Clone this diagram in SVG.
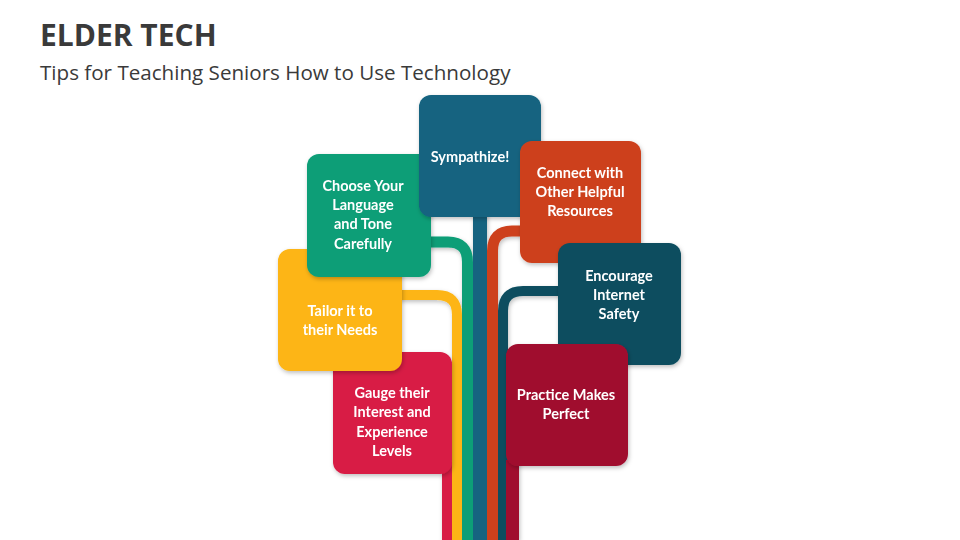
<svg xmlns="http://www.w3.org/2000/svg" width="960" height="540" viewBox="0 0 960 540">
<defs>
<filter id="sh" x="-20%" y="-20%" width="140%" height="140%"><feDropShadow dx="1" dy="2" stdDeviation="2" flood-opacity="0.25"/></filter>
</defs>
<style>
.t{font-family:Lato,"Liberation Sans",sans-serif;font-size:14.5px;font-weight:700;fill:#fff;text-anchor:middle}
.b{fill:none;stroke-linecap:butt}
</style>
<rect width="960" height="540" fill="#fff"/>
<text x="40" y="46" font-family="Open Sans, Liberation Sans, sans-serif" font-size="30" font-weight="700" fill="#3a3a3a">ELDER TECH</text>
<text x="40" y="80" font-family="Open Sans, Liberation Sans, sans-serif" font-size="20.6" fill="#3a3a3a">Tips for Teaching Seniors How to Use Technology</text>
<g id="connectors" filter="url(#sh)">
<path class="b" d="M 425 242 H 448 Q 467.5 242 467.5 262 V 540" stroke="#0a9e77" stroke-width="11"/>
<path class="b" d="M 395 295 H 437 Q 457 295 457 315 V 540" stroke="#fdb513" stroke-width="10"/>
<rect x="442" y="460" width="10" height="80" fill="#d81a44"/>
<path class="b" d="M 527 231 H 512 Q 492.5 231 492.5 251 V 540" stroke="#cd411d" stroke-width="11"/>
<path class="b" d="M 565 291 H 523 Q 503 291 503 311 V 540" stroke="#0b4d5f" stroke-width="10"/>
<rect x="473" y="210" width="14" height="330" fill="#136480"/>
<rect x="506" y="460" width="13" height="80" fill="#a0112f"/>
</g>
<g id="n-gauge" filter="url(#sh)"><rect x="333" y="352" width="119" height="122" rx="12" fill="#d81a44"/><text class="t" x="392" y="398">Gauge their</text><text class="t" x="392" y="417">Interest and</text><text class="t" x="392" y="437">Experience</text><text class="t" x="392" y="456">Levels</text></g>
<g id="n-tailor" filter="url(#sh)"><rect x="278" y="249" width="124" height="122" rx="12" fill="#fdb513"/><text class="t" x="340" y="316">Tailor it to</text><text class="t" x="340" y="335">their Needs</text></g>
<g id="n-choose" filter="url(#sh)"><rect x="307" y="154" width="124" height="123" rx="12" fill="#0a9e77"/><text class="t" x="363" y="191">Choose Your</text><text class="t" x="363" y="210">Language</text><text class="t" x="363" y="229">and Tone</text><text class="t" x="363" y="249">Carefully</text></g>
<g id="n-sympathize" filter="url(#sh)"><rect x="419" y="95" width="122" height="122" rx="12" fill="#136480"/><text class="t" x="470" y="162">Sympathize!</text></g>
<g id="n-connect" filter="url(#sh)"><rect x="520" y="141" width="121" height="122" rx="12" fill="#cd411d"/><text class="t" x="580" y="178">Connect with</text><text class="t" x="580" y="197">Other Helpful</text><text class="t" x="580" y="216">Resources</text></g>
<g id="n-encourage" filter="url(#sh)"><rect x="558" y="243" width="123" height="122" rx="12" fill="#0b4d5f"/><text class="t" x="619" y="281">Encourage</text><text class="t" x="619" y="300">Internet</text><text class="t" x="619" y="319">Safety</text></g>
<g id="n-practice" filter="url(#sh)"><rect x="506" y="344" width="122" height="122" rx="12" fill="#a0112f"/><text class="t" x="566" y="400">Practice Makes</text><text class="t" x="566" y="419">Perfect</text></g>
</svg>
